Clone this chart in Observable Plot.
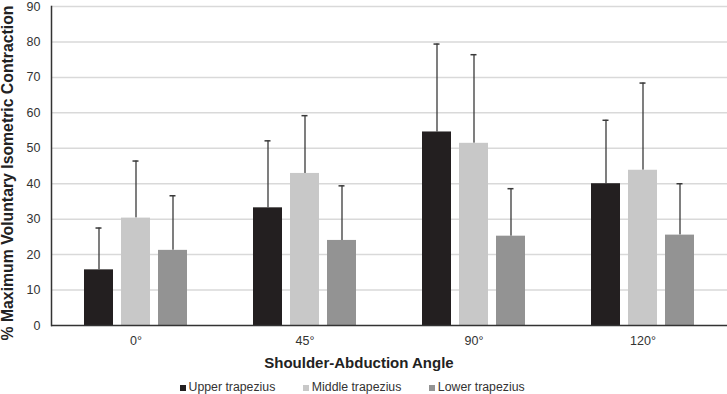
<!DOCTYPE html>
<html>
<head>
<meta charset="utf-8">
<script src="https://cdn.jsdelivr.net/npm/d3@7"></script>
<script src="https://cdn.jsdelivr.net/npm/@observablehq/plot@0.6"></script>
<style>
  html, body { margin: 0; padding: 0; background: #fff; }
  body { width: 727px; height: 394px; overflow: hidden; position: relative; font-family: "Liberation Sans", Arial, sans-serif; }
  #chart svg { display: block; }
  #ytitle { position: absolute; left: -192px; top: 162.5px; width: 400px; height: 20px; line-height: 20px; text-align: center; transform: rotate(-90deg); font-weight: bold; font-size: 15.8px; color: #222; white-space: nowrap; }
  #xtitle { position: absolute; left: 0; top: 353px; width: 718px; height: 20px; line-height: 20px; text-align: center; font-weight: bold; font-size: 15px; color: #222; white-space: nowrap; }
  #legend { position: absolute; left: 180px; top: 378px; height: 18px; display: flex; gap: 28px; font-size: 12.3px; color: #333; line-height: 18px; white-space: nowrap; }
  #legend span.sw { display: inline-block; width: 6px; height: 6px; margin-right: 2.5px; vertical-align: 0px; }
</style>
</head>
<body>
<div id="chart"></div>
<div id="ytitle"></div>
<div id="xtitle"></div>
<div id="legend"></div>
<script>
const angles = ["0°", "45°", "90°", "120°"];
const muscles = ["Upper trapezius", "Middle trapezius", "Lower trapezius"];
const colors = ["#231f20", "#c8c8c8", "#939393"];
const upperMean = [15.7, 33.2, 54.6, 40.0];
const upperSD = [11.8, 18.9, 24.8, 17.9];
const middleMean = [30.3, 42.9, 51.4, 43.8];
const middleSD = [16.1, 16.3, 25.0, 24.6];
const lowerMean = [21.2, 24.0, 25.2, 25.5];
const lowerSD = [15.4, 15.4, 13.4, 14.5];
const yTicks = [0, 10, 20, 30, 40, 50, 60, 70, 80, 90];
const yTitle = "% Maximum Voluntary Isometric Contraction";
const xTitle = "Shoulder-Abduction Angle";

const means = [upperMean, middleMean, lowerMean];
const sds = [upperSD, middleSD, lowerSD];
const data = [];
angles.forEach((a, i) => {
  muscles.forEach((m, j) => {
    data.push({angle: a, muscle: m, mean: means[j][i], sd: sds[j][i], top: means[j][i] + sds[j][i]});
  });
});

const chart = Plot.plot({
  width: 727,
  height: 376,
  marginLeft: 50,
  marginRight: 0,
  marginTop: 6,
  marginBottom: 51,
  style: {fontFamily: "Liberation Sans, Arial, sans-serif", fontSize: "12.5px", color: "#333"},
  fx: {domain: angles, padding: 0, label: null},
  x: {domain: muscles, paddingInner: 0.227, paddingOuter: 0.87, axis: null},
  y: {domain: [0, 90], label: null},
  color: {domain: muscles, range: colors},
  marks: [
    Plot.gridY(yTicks.filter(d => d > 0), {stroke: "#d9d9d9", strokeOpacity: 1, strokeWidth: 1.5}),
    Plot.axisY({ticks: yTicks, tickSize: 0, tickPadding: 11, label: null, fontSize: 12.5}),
    Plot.axisFx({anchor: "bottom", tickSize: 0, tickPadding: 11, label: null, fontSize: 12.5}),
    Plot.ruleX(data, {fx: "angle", x: "muscle", y1: "mean", y2: "top", stroke: "#3a3a3a", strokeWidth: 1.3}),
    Plot.tickY(data, {fx: "angle", x: "muscle", y: "top", stroke: "#3a3a3a", strokeWidth: 1.5, insetLeft: 11.5, insetRight: 11.5}),
    Plot.barY(data, {fx: "angle", x: "muscle", y: "mean", fill: "muscle"}),
    Plot.ruleY([0], {stroke: "#333", strokeWidth: 1.5}),
    Plot.frame({anchor: "left", facetAnchor: "left", stroke: "#333", strokeWidth: 1.5})
  ]
});
document.getElementById("chart").appendChild(chart);
document.getElementById("ytitle").textContent = yTitle;
document.getElementById("xtitle").textContent = xTitle;

const legend = document.getElementById("legend");
muscles.forEach((m, j) => {
  const item = document.createElement("div");
  const sw = document.createElement("span");
  sw.className = "sw";
  sw.style.background = colors[j];
  item.appendChild(sw);
  item.appendChild(document.createTextNode(m));
  legend.appendChild(item);
});
</script>
</body>
</html>
